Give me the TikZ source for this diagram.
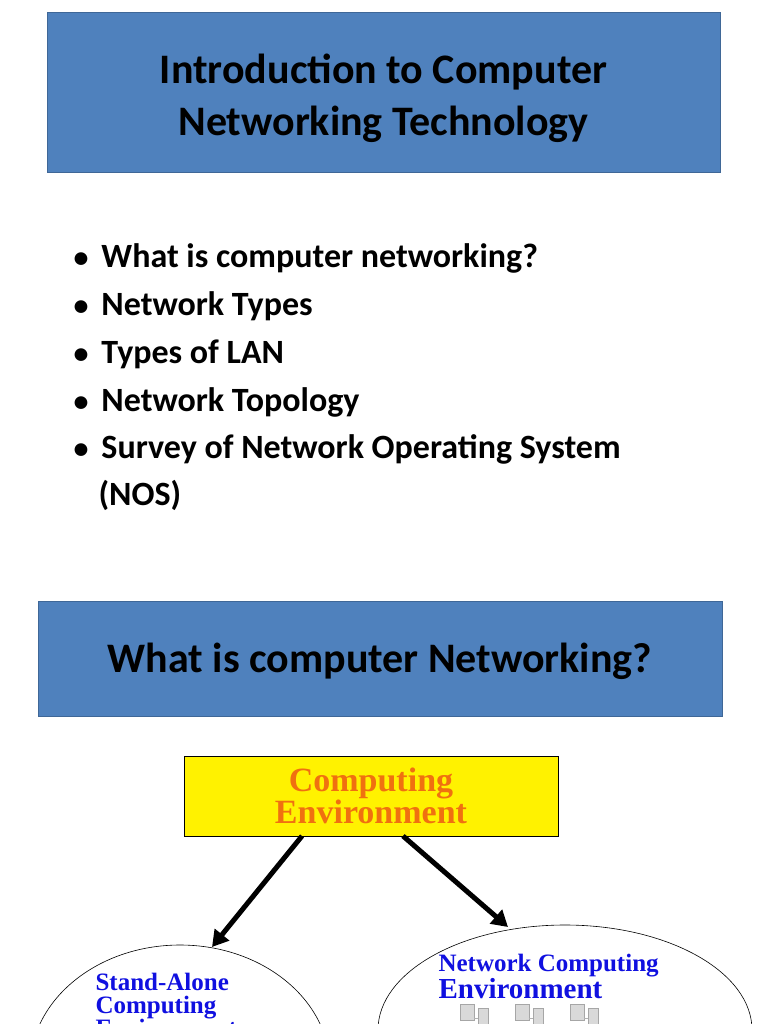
\documentclass[tikz,border=0pt]{standalone}
\usepackage{fontspec}
\setmainfont{Carlito}
\newfontfamily\serifbold{Liberation Serif}
\usetikzlibrary{arrows.meta}
\definecolor{slideblue}{HTML}{4F81BD}
\definecolor{envorange}{HTML}{F07010}
\definecolor{envblue}{HTML}{1010E0}
\begin{document}
\begin{tikzpicture}[x=1pt,y=-1pt,
  titlebox/.style={fill=slideblue,draw=slideblue!80!black,line width=0.5pt},
  titletext/.style={font=\fontsize{42}{52}\selectfont\bfseries,align=center},
  bullettext/.style={font=\fontsize{34}{46}\selectfont\bfseries,anchor=base west,align=left},
  envtext/.style={font=\serifbold\fontsize{34}{31}\selectfont\bfseries,text=envorange,align=center},
  subtext/.style={font=\serifbold\fontsize{25}{23}\selectfont\bfseries,text=envblue,anchor=north west,align=left},
  fatarrow/.style={line width=5pt,-{Triangle[length=16pt,width=18pt]}},
  pcicon/.style={fill=gray!30,draw=gray!70,line width=0.4pt}]
\clip (0,0) rectangle (768,1024);
\useasboundingbox (0,0) rectangle (768,1024);
\fill[white] (0,0) rectangle (768,1024);
% first slide
\draw[titlebox] (47,12) rectangle (720,172);
\node[titletext] (title) at (383.5,98) {Introduction to Computer\\Networking Technology};
\foreach \y/\t in {267/What is computer networking?,315/Network Types,363/Types of LAN,411/Network Topology,458/Survey of Network Operating System}
  {\node[bullettext] at (70,\y) {{\fontsize{30}{30}\selectfont\textbullet}\hspace{13pt}\t};}
\node[bullettext] (nos) at (95,505) {(NOS)};
% second slide
\draw[titlebox] (38,601) rectangle (722,716);
\node[titletext] (title2) at (380,661) {What is computer Networking?};
\node[draw=black,fill=yellow,minimum width=374pt,minimum height=80pt,envtext] (env) at (371,796) {Computing\\Environment};
\draw[line width=0.6pt] (180,1068) ellipse (150pt and 123pt);
\draw[line width=0.6pt] (565,1030) ellipse (187pt and 105pt);
\coordinate (left) at (212,947);
\coordinate (right) at (508,927);
\draw[fatarrow] (302,836) -- (left);
\draw[fatarrow] (403,836) -- (right);
\node[subtext] (stand) at (92,970) {Stand-Alone\\Computing\\Environment};
\node[subtext] (netc) at (435,951) {Network Computing\\{\fontsize{29}{23}\selectfont Environment}};
\foreach \x in {460,515,570}
{
  \draw[pcicon] (\x,1004) rectangle ++(14,16);
  \draw[pcicon] (\x+18,1008) rectangle ++(10,16);
  \draw[gray!60,line width=1pt] (\x+14,1018) -- (\x+18,1018);
}
\end{tikzpicture}
\end{document}
